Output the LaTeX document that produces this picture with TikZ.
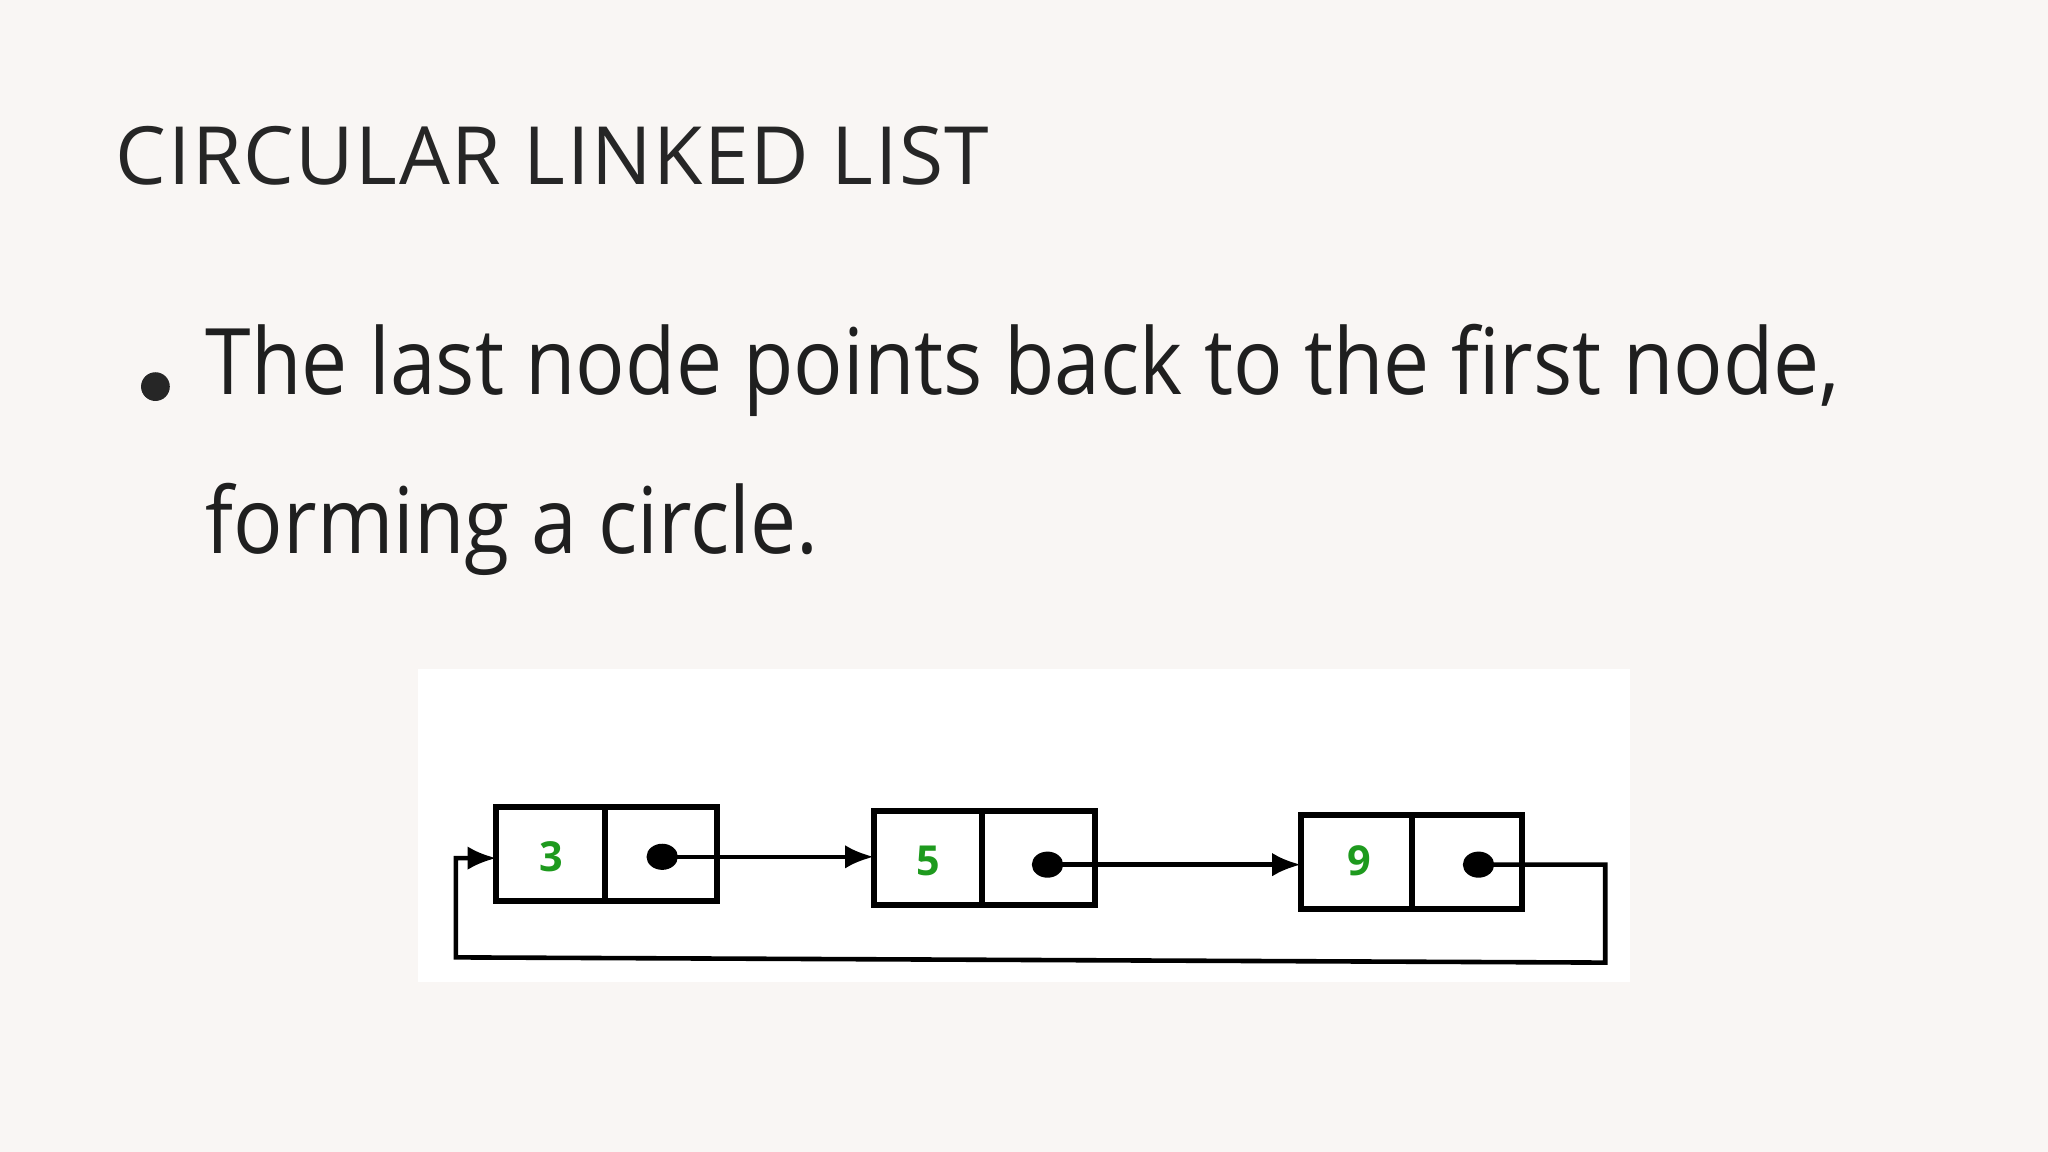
\documentclass[tikz,border=0pt]{standalone}
\usepackage{fontspec}
\setmainfont{Open Sans}
\newfontfamily\titlefont[LetterSpace=2]{Open Sans}
\usetikzlibrary{arrows.meta,shapes.geometric}
\definecolor{bg}{HTML}{F9F6F4}
\definecolor{numgreen}{HTML}{1E9A1E}
\tikzset{
  num/.style={text=numgreen, font=\bfseries\fontsize{9}{10}\selectfont},
  dot/.style={fill=black, ellipse, minimum width=0.24cm, minimum height=0.2cm, inner sep=0pt},
  link/.style={line width=1pt, -{Latex[length=2.2mm,width=1.8mm]}},
  box/.style={line width=1.3pt}
}
\begin{document}
\begin{tikzpicture}[x=0.01cm,y=-0.01cm]
\fill[bg] (0,0) rectangle (1568,882);
\useasboundingbox (0,0) rectangle (1568,882);
\node[anchor=base west, inner sep=0, text=black!85] (title) at (88,141) {\titlefont\fontsize{17.5}{20}\selectfont CIRCULAR LINKED LIST};
\fill[black!85] (119,296) circle (0.11cm);
\node[anchor=base west, inner sep=0, text=black!88] (l1) at (157,302) {\scalebox{0.895}[1]{\fontsize{20}{24}\selectfont The last node points back to the first node,}};
\node[anchor=base west, inner sep=0, text=black!88] (l2) at (157,424) {\scalebox{0.895}[1]{\fontsize{20}{24}\selectfont forming a circle.}};
\fill[white] (320,512) rectangle (1248,752);
\draw[box] (380,618) rectangle (549,690); \draw[box] (463,618) -- (463,690);
\draw[box] (669,621) rectangle (838,693); \draw[box] (752,621) -- (752,693);
\draw[box] (996,624) rectangle (1165,696); \draw[box] (1081,624) -- (1081,696);
\node[num] (n1) at (422,656) {3};
\node[num] (n2) at (711,659) {5};
\node[num] (n3) at (1041,659) {9};
\node[dot] (d1) at (507,656) {};
\node[dot] (d2) at (802,662) {};
\node[dot] (d3) at (1132,662) {};
\coordinate (in1) at (380,657);
\coordinate (in2) at (669,656);
\coordinate (in3) at (996,662);
\coordinate (c1) at (1229,662);
\draw[link] (d1.center) -- (in2);
\draw[link] (d2.center) -- (in3);
\draw[link] (d3.center) -- (c1) -- (1229,737) -- (349,733) -- (349,657) -- (in1);
\end{tikzpicture}
\end{document}
